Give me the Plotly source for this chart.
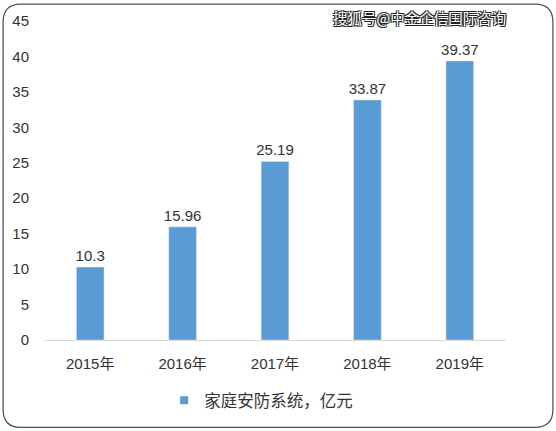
import plotly.graph_objects as go

years = ["2015年", "2016年", "2017年", "2018年", "2019年"]
values = [10.3, 15.96, 25.19, 33.87, 39.37]
labels = ["10.3", "15.96", "25.19", "33.87", "39.37"]
series_name = "家庭安防系统，亿元"
watermark = "搜狐号@中金企信国际咨询"
y_ticks = [0, 5, 10, 15, 20, 25, 30, 35, 40, 45]

FONT = "Liberation Sans, Noto Sans CJK SC, sans-serif"
TXT = "#333333"
BLUE = "#5B9BD5"

fig = go.Figure()
fig.add_trace(go.Bar(
    x=years, y=values, name=series_name,
    marker=dict(color=BLUE),
    text=labels, textposition="outside", cliponaxis=False,
    constraintext="none",
    textfont=dict(size=15, color=TXT, family=FONT),
    showlegend=False,
))
# legend entry with a small square marker
fig.add_trace(go.Scatter(
    x=[None], y=[None], mode="markers", name=series_name,
    marker=dict(symbol="square", size=8, color=BLUE), showlegend=True,
))

fig.update_layout(
    width=556, height=431,
    margin=dict(l=43, r=50, t=19, b=91),
    paper_bgcolor="white", plot_bgcolor="white",
    bargap=0.70,
    font=dict(family=FONT, size=15, color=TXT),
    xaxis=dict(showline=True, linecolor="#D9D9D9", linewidth=1, ticks="",
               tickfont=dict(size=15, color=TXT), showgrid=False,
               ticklabelstandoff=10),
    yaxis=dict(range=[0, 45], tickvals=y_ticks, showgrid=False, zeroline=False,
               showline=False, ticks="", tickfont=dict(size=15, color=TXT),
               ticklabelstandoff=14),
    legend=dict(orientation="h", x=0.47, xanchor="center", y=-0.19, yanchor="middle",
                font=dict(size=16.5, color=TXT), itemwidth=30),
    annotations=[dict(text=watermark, xref="paper", yref="paper", x=1.005, y=1.012,
                      xanchor="right", yanchor="middle", showarrow=False,
                      font=dict(size=14.5, color="white", family="Noto Sans CJK SC",
                                shadow="1px 1px 0 #222, -1px -1px 0 #222, 1px -1px 0 #222, -1px 1px 0 #222"))],
)

# rounded border around whole chart, in pixel-based paper coords
W, H = 556, 431
pw, ph = W - 43 - 50, H - 19 - 91
def px(x): return (x - 43) / pw
def py(y): return (H - 91 - y) / ph
x0, x1, y0, y1, r = 2, 553, 2, 428, 18
path = (f"M {px(x0 + r)},{py(y0)} L {px(x1 - r)},{py(y0)} "
        f"Q {px(x1)},{py(y0)} {px(x1)},{py(y0 + r)} L {px(x1)},{py(y1 - r)} "
        f"Q {px(x1)},{py(y1)} {px(x1 - r)},{py(y1)} L {px(x0 + r)},{py(y1)} "
        f"Q {px(x0)},{py(y1)} {px(x0)},{py(y1 - r)} L {px(x0)},{py(y0 + r)} "
        f"Q {px(x0)},{py(y0)} {px(x0 + r)},{py(y0)} Z")
fig.layout.shapes = [dict(type="path", xref="paper", yref="paper", path=path,
                          line=dict(color="#4D4D4D", width=1.2), layer="above")]

fig.write_html("out.html")
